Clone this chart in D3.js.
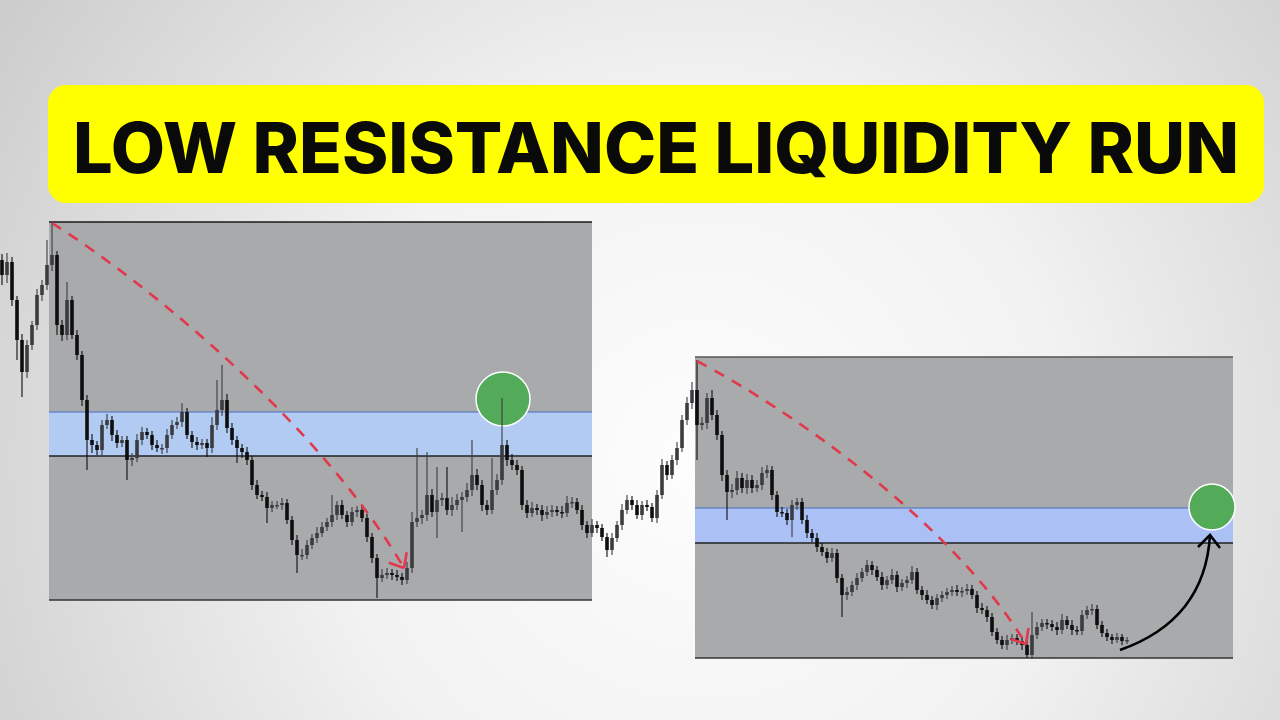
<!DOCTYPE html>
<html><head><meta charset="utf-8">
<script src="https://cdn.jsdelivr.net/npm/d3@7"></script>
<style>html,body{margin:0;padding:0;overflow:hidden;background:#e8e8e8}</style>
</head><body>
<svg id="chart" width="1280" height="720"></svg>
<script>
// ---------- DATA ----------
const title = "LOW RESISTANCE LIQUIDITY RUN";
const firstOpen = 460;
// closing prices, one candle per entry
const closes = [
445,458,420,380,348,375,395,425,435,455,
465,395,385,420,385,365,320,280,275,270,
295,300,285,277,280,260,262,280,288,285,
275,272,272,285,295,298,308,285,278,275,
277,272,295,310,320,292,280,272,268,260,
235,225,223,212,215,215,217,200,180,165,
165,175,182,187,193,198,205,215,205,198,
208,210,202,183,162,142,145,147,145,143,
140,152,198,202,205,225,208,220,222,210,
215,220,223,230,245,235,215,210,230,240,
275,260,255,250,215,207,212,210,205,208,
210,208,207,217,218,210,195,187,195,192,
183,170,182,195,210,220,215,205,215,213,
202,225,255,245,260,272,300,317,330,295,
297,322,305,285,245,228,230,242,232,240,
232,235,247,250,225,208,207,200,215,218,
200,187,182,173,168,162,167,142,125,128,
135,142,148,155,150,143,135,140,145,133,
137,140,148,130,125,120,115,122,125,128,
130,128,129,131,125,112,110,103,88,80,
75,80,82,79,75,65,85,93,97,96,
93,90,100,95,90,89,105,110,111,95,
87,83,80,83,79,80];
// upper wick length above max(open, close)
const wickUp = [
6,9,5,4,6,5,4,6,5,25, 33,4,5,18,4,5,4,5,6,4,
5,6,4,5,4,4,5,6,5,4, 4,5,4,6,5,5,9,4,4,5,
4,4,8,30,35,6,5,4,4,5, 4,5,4,5,4,4,5,4,4,5,
6,5,4,6,5,4,20,4,5,4, 5,4,4,4,4,4,6,5,4,5,
4,6,10,70,5,43,6,33,5,31, 8,6,5,7,35,6,5,5,32,6,
47,5,6,5,4,5,6,4,5,6, 5,4,6,7,5,4,5,4,6,4,
4,4,5,4,6,5,4,5,4,5, 4,5,6,4,5,6,5,6,8,30,
6,5,8,5,4,5,6,7,5,6, 5,5,6,5,4,4,5,4,5,4,
4,5,4,5,4,4,5,4,4,5, 4,5,4,5,4,4,5,4,6,4,
4,4,6,4,4,5,4,4,4,4, 4,5,4,5,4,4,5,4,4,4,
4,5,4,4,4,4,23,5,4,4, 4,5,6,4,5,4,5,4,5,4,
4,4,3,4,3,3];
// lower wick length below min(open, close)
const wickDn = [
10,8,6,20,25,6,5,5,6,5, 6,10,6,5,4,5,6,30,8,5,
5,4,6,5,4,20,6,4,5,4, 5,4,6,5,4,4,5,4,6,5,
4,9,5,5,6,5,5,15,6,5, 5,4,4,15,4,4,5,4,5,18,
5,4,4,5,4,4,5,5,4,5, 4,5,4,5,5,20,4,4,5,4,
5,4,5,5,6,6,5,26,6,5, 6,5,32,5,6,5,6,5,4,5,
5,6,5,5,5,5,4,5,6,4, 5,4,5,4,5,4,5,5,4,5,
4,7,5,4,5,4,5,4,5,4, 4,5,4,5,4,5,4,5,6,35,
5,6,5,5,6,28,6,5,5,6, 5,4,5,5,5,5,4,5,17,5,
4,5,4,5,4,5,4,5,22,5, 4,5,4,4,5,4,5,4,4,5,
4,5,4,4,5,4,4,5,4,4, 4,4,5,4,4,5,4,5,4,4,
4,5,4,4,5,3,4,4,4,5, 4,5,4,4,5,4,4,4,5,4,
4,4,4,3,4,3];
// highlighted zones: [startIndex, endIndex, topPrice, bottomPrice]
const boxes = [[9.4,118,498,120],[138.6,246.2,363,62]];
const bands = [[9.4,118,308,264],[138.6,246.2,212,177]];
// liquidity targets: [index, price]
const targets = [[100.2,321],[242,213]];
// dashed move curves: cubic control points [index, price]
const moves = [
  [[10,497],[29.6,435],[63.6,295],[80.4,152]],
  [[139,359],[157.6,310],[189.6,200],[204.8,76]]
];
// projected move arrow: quadratic points [index, price]
const projection = [[223.6,70],[240.6,100],[241.6,185]];

// ---------- BUILD ----------
const svg = d3.select("#chart");
const W = 1280, H = 720;
const n = closes.length;
const x = d3.scaleLinear().domain([0, n - 1]).range([2, 1127]);
const y = d3.scaleLinear().domain([0, 720]).range([720, 0]);

const candles = closes.map((c, i) => {
  const o = i === 0 ? firstOpen : closes[i - 1];
  return {i, o, c, h: Math.max(o, c) + wickUp[i], l: Math.min(o, c) - wickDn[i]};
});

const defs = svg.append("defs");
const rg = defs.append("radialGradient").attr("id", "bg")
  .attr("gradientUnits", "userSpaceOnUse").attr("cx", 700).attr("cy", 460).attr("r", 820);
rg.append("stop").attr("offset", "0%").attr("stop-color", "#fdfdfd");
rg.append("stop").attr("offset", "45%").attr("stop-color", "#f2f2f2");
rg.append("stop").attr("offset", "100%").attr("stop-color", "#cdcdcd");
svg.append("rect").attr("width", W).attr("height", H).attr("fill", "url(#bg)");

// title banner
svg.append("rect").attr("x", 48).attr("y", 85).attr("width", 1216).attr("height", 118)
  .attr("rx", 18).attr("fill", "#ffff00");
const tt = svg.append("text").attr("x", 656).attr("y", 173).text(title)
  .attr("text-anchor", "middle")
  .attr("font-family", "Inter, 'Open Sans', sans-serif").attr("font-weight", 800)
  .attr("font-size", 76).attr("fill", "#0a0a0a");
{
  const target = 1166;
  const w0 = tt.node().getComputedTextLength();
  if (w0 > target) {
    tt.attr("font-size", 76 * target / w0);
  } else {
    tt.attr("letter-spacing", ((target - w0) / (title.length - 1)).toFixed(2));
  }
}

// panels
const g = svg.append("g");
boxes.forEach((b, k) => {
  g.append("rect").attr("x", x(b[0])).attr("y", y(b[2]))
    .attr("width", x(b[1]) - x(b[0])).attr("height", y(b[3]) - y(b[2]))
    .attr("fill", "#a8aaac");
  g.append("line").attr("x1", x(b[0])).attr("x2", x(b[1])).attr("y1", y(b[2])).attr("y2", y(b[2]))
    .attr("stroke", k === 0 ? "#1a1a1a" : "#555").attr("stroke-width", 1.5);
  g.append("line").attr("x1", x(b[0])).attr("x2", x(b[1])).attr("y1", y(b[3])).attr("y2", y(b[3]))
    .attr("stroke", "#333").attr("stroke-width", 1.5);
});
bands.forEach((b, k) => {
  g.append("rect").attr("x", x(b[0])).attr("y", y(b[2]))
    .attr("width", x(b[1]) - x(b[0])).attr("height", y(b[3]) - y(b[2]))
    .attr("fill", k === 0 ? "#b2cbf2" : "#abc0f4");
  g.append("line").attr("x1", x(b[0])).attr("x2", x(b[1])).attr("y1", y(b[2])).attr("y2", y(b[2]))
    .attr("stroke", "#4a6fc0").attr("stroke-width", 1.2);
  g.append("line").attr("x1", x(b[0])).attr("x2", x(b[1])).attr("y1", y(b[3])).attr("y2", y(b[3]))
    .attr("stroke", "#222").attr("stroke-width", 1.3);
});

// targets (behind candles)
g.selectAll("circle.t").data(targets).join("circle").attr("class", "t")
  .attr("cx", d => x(d[0])).attr("cy", d => y(d[1]))
  .attr("r", (d, k) => k === 0 ? 27 : 23)
  .attr("fill", "#53aa58").attr("stroke", "#ffffff").attr("stroke-width", 1.5);

// candles
const bull = "#3a3c40", bear = "#0e0e0e";
const cg = svg.append("g");
cg.selectAll("line.w").data(candles).join("line").attr("class", "w")
  .attr("x1", d => x(d.i)).attr("x2", d => x(d.i))
  .attr("y1", d => y(d.h)).attr("y2", d => y(d.l))
  .attr("stroke", d => d.c < d.o ? bear : bull).attr("stroke-width", 1.1);
cg.selectAll("rect.b").data(candles).join("rect").attr("class", "b")
  .attr("x", d => x(d.i) - 1.8).attr("width", 3.6)
  .attr("y", d => y(Math.max(d.o, d.c)))
  .attr("height", d => Math.max(1.5, Math.abs(y(d.o) - y(d.c))))
  .attr("fill", d => d.c < d.o ? bear : bull);

// red dashed move curves with arrowheads
moves.forEach(m => {
  const p = m.map(d => [x(d[0]), y(d[1])]);
  const path = d3.path();
  path.moveTo(p[0][0], p[0][1]);
  path.bezierCurveTo(p[1][0], p[1][1], p[2][0], p[2][1], p[3][0], p[3][1]);
  svg.append("path").attr("d", path.toString()).attr("fill", "none")
    .attr("stroke", "#e2384b").attr("stroke-width", 2.6).attr("stroke-dasharray", "11,9");
  const ang = Math.atan2(p[3][1] - p[2][1], p[3][0] - p[2][0]);
  [0.7, -0.7].forEach(a => {
    const L = 16;
    svg.append("line").attr("x1", p[3][0]).attr("y1", p[3][1])
      .attr("x2", p[3][0] - L * Math.cos(ang + a)).attr("y2", p[3][1] - L * Math.sin(ang + a))
      .attr("stroke", "#e2384b").attr("stroke-width", 2.6);
  });
});

// projected black arrow
{
  const p = projection.map(d => [x(d[0]), y(d[1])]);
  const path = d3.path();
  path.moveTo(p[0][0], p[0][1]);
  path.quadraticCurveTo(p[1][0], p[1][1], p[2][0], p[2][1]);
  svg.append("path").attr("d", path.toString()).attr("fill", "none")
    .attr("stroke", "#000").attr("stroke-width", 2.6);
  svg.append("path")
    .attr("d", `M${p[2][0] - 12},${p[2][1] + 12} L${p[2][0]},${p[2][1]} L${p[2][0] + 10},${p[2][1] + 13}`)
    .attr("fill", "none").attr("stroke", "#000").attr("stroke-width", 2.6);
}
</script>
</body></html>
